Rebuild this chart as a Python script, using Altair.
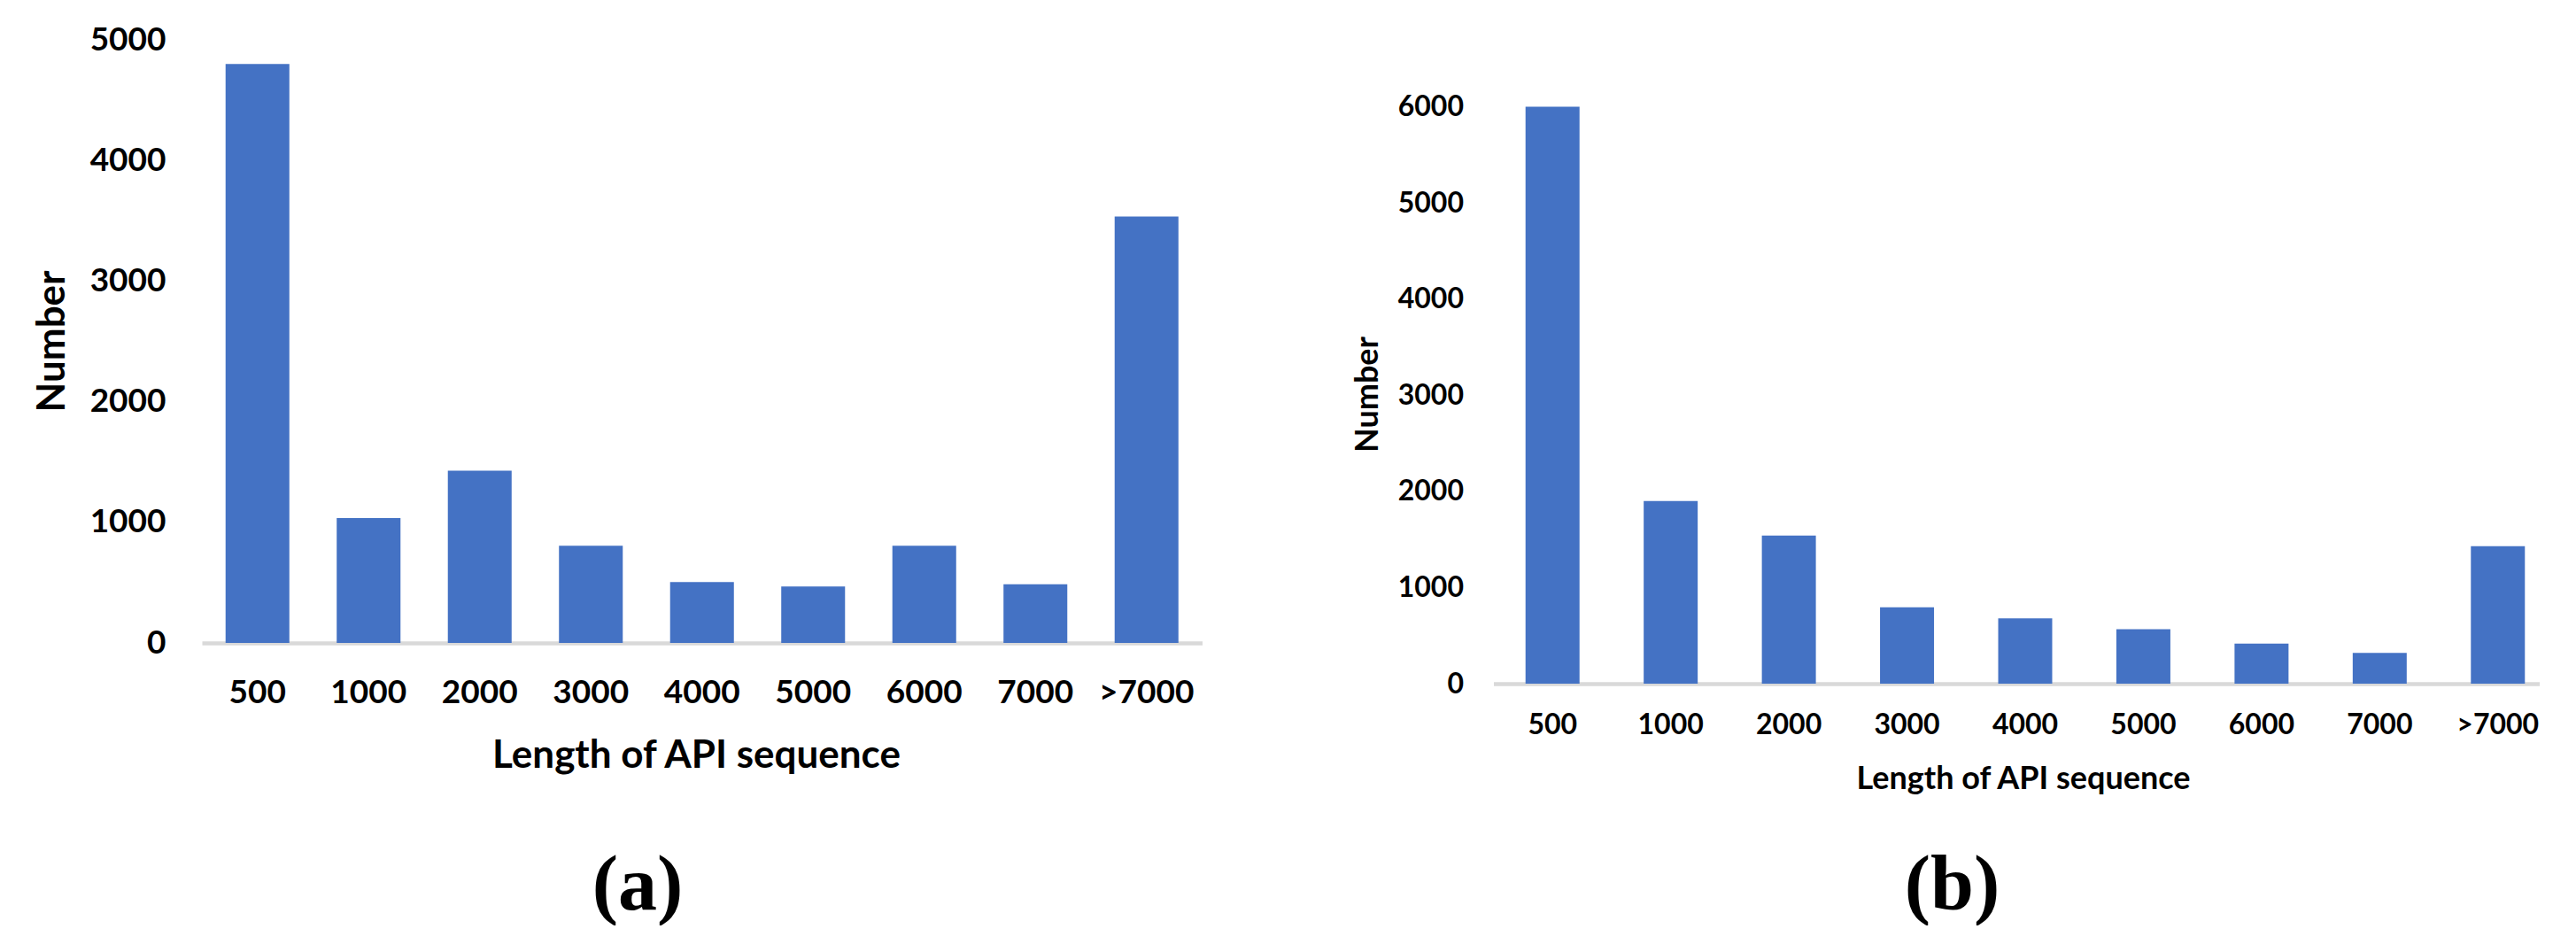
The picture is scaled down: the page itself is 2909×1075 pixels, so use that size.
import altair as alt
import pandas as pd

categories = ["500", "1000", "2000", "3000", "4000", "5000", "6000", "7000", ">7000"]
counts_a = [4800, 1035, 1428, 805, 504, 468, 805, 486, 3535]
counts_b = [6005, 1900, 1542, 795, 680, 566, 418, 321, 1430]
yticks_a = [0, 1000, 2000, 3000, 4000, 5000]
yticks_b = [0, 1000, 2000, 3000, 4000, 5000, 6000]
x_title = "Length of API sequence"
y_title = "Number"
captions = ["(a)", "(b)"]

FONT = "Lato"
BAR = "#4472C4"


def panel(values, ticks, dmax, width, height, pin, fs_tick, fs_title,
          lab_pad_y, lab_pad_x, xt_x, xt_y, yt_x, yt_y, caption, cap_dx, cap_off):
    df = pd.DataFrame({"cat": categories, "n": values})
    return alt.Chart(
        df,
        title=alt.TitleParams(
            caption, orient="bottom", anchor="middle", frame="group",
            font="Liberation Serif", fontSize=88, fontWeight="bold",
            color="black", baseline="alphabetic", offset=cap_off, dx=cap_dx,
        ),
    ).mark_bar(color=BAR).encode(
        x=alt.X(
            "cat:N", sort=categories,
            scale=alt.Scale(paddingInner=pin, paddingOuter=pin / 2),
            axis=alt.Axis(
                title=x_title, labelAngle=0, labelFont=FONT, labelFontSize=fs_tick,
                labelFontWeight="bold", labelColor="black", labelBaseline="alphabetic",
                labelPadding=lab_pad_x, ticks=False, tickSize=0,
                domainColor="#d9d9d9", domainWidth=4.5,
                titleFont=FONT, titleFontSize=fs_title, titleFontWeight="bold",
                titleColor="black", titleBaseline="alphabetic", titleAlign="center",
                titleX=xt_x, titleY=xt_y, labelOverlap=False,
            ),
        ),
        y=alt.Y(
            "n:Q",
            scale=alt.Scale(domain=[0, dmax], nice=False),
            axis=alt.Axis(
                values=ticks, format="d", title=y_title, grid=False, domain=False,
                ticks=False, tickSize=0, labelFont=FONT, labelFontSize=fs_tick,
                labelFontWeight="bold", labelColor="black", labelPadding=lab_pad_y,
                titleFont=FONT, titleFontSize=fs_title, titleFontWeight="bold",
                titleColor="black", titleAngle=270, titleAlign="center",
                titleBaseline="alphabetic", titleX=yt_x, titleY=yt_y,
            ),
        ),
    ).properties(width=width, height=height)


a = panel(counts_a, yticks_a, 5000, 1129.5, 681, 0.426, 37, 44,
          41, 67, 558, 140, -156, 340, captions[0], -72.75, 152)
b = panel(counts_b, yticks_b, 6700, 1201, 727, 0.543, 32, 36,
          34, 56, 598, 118, -131, 400, captions[1], -82.5, 130)

chart = alt.hconcat(a, b, spacing=328.5, bounds="flush").properties(
    autosize=alt.AutoSizeParams(type="none"),
    padding={"left": 220, "top": 37, "right": 2640, "bottom": 1000},
    background="white",
).configure_view(stroke=None)

chart.save("out.html", embed_options={"renderer": "svg", "actions": False})
